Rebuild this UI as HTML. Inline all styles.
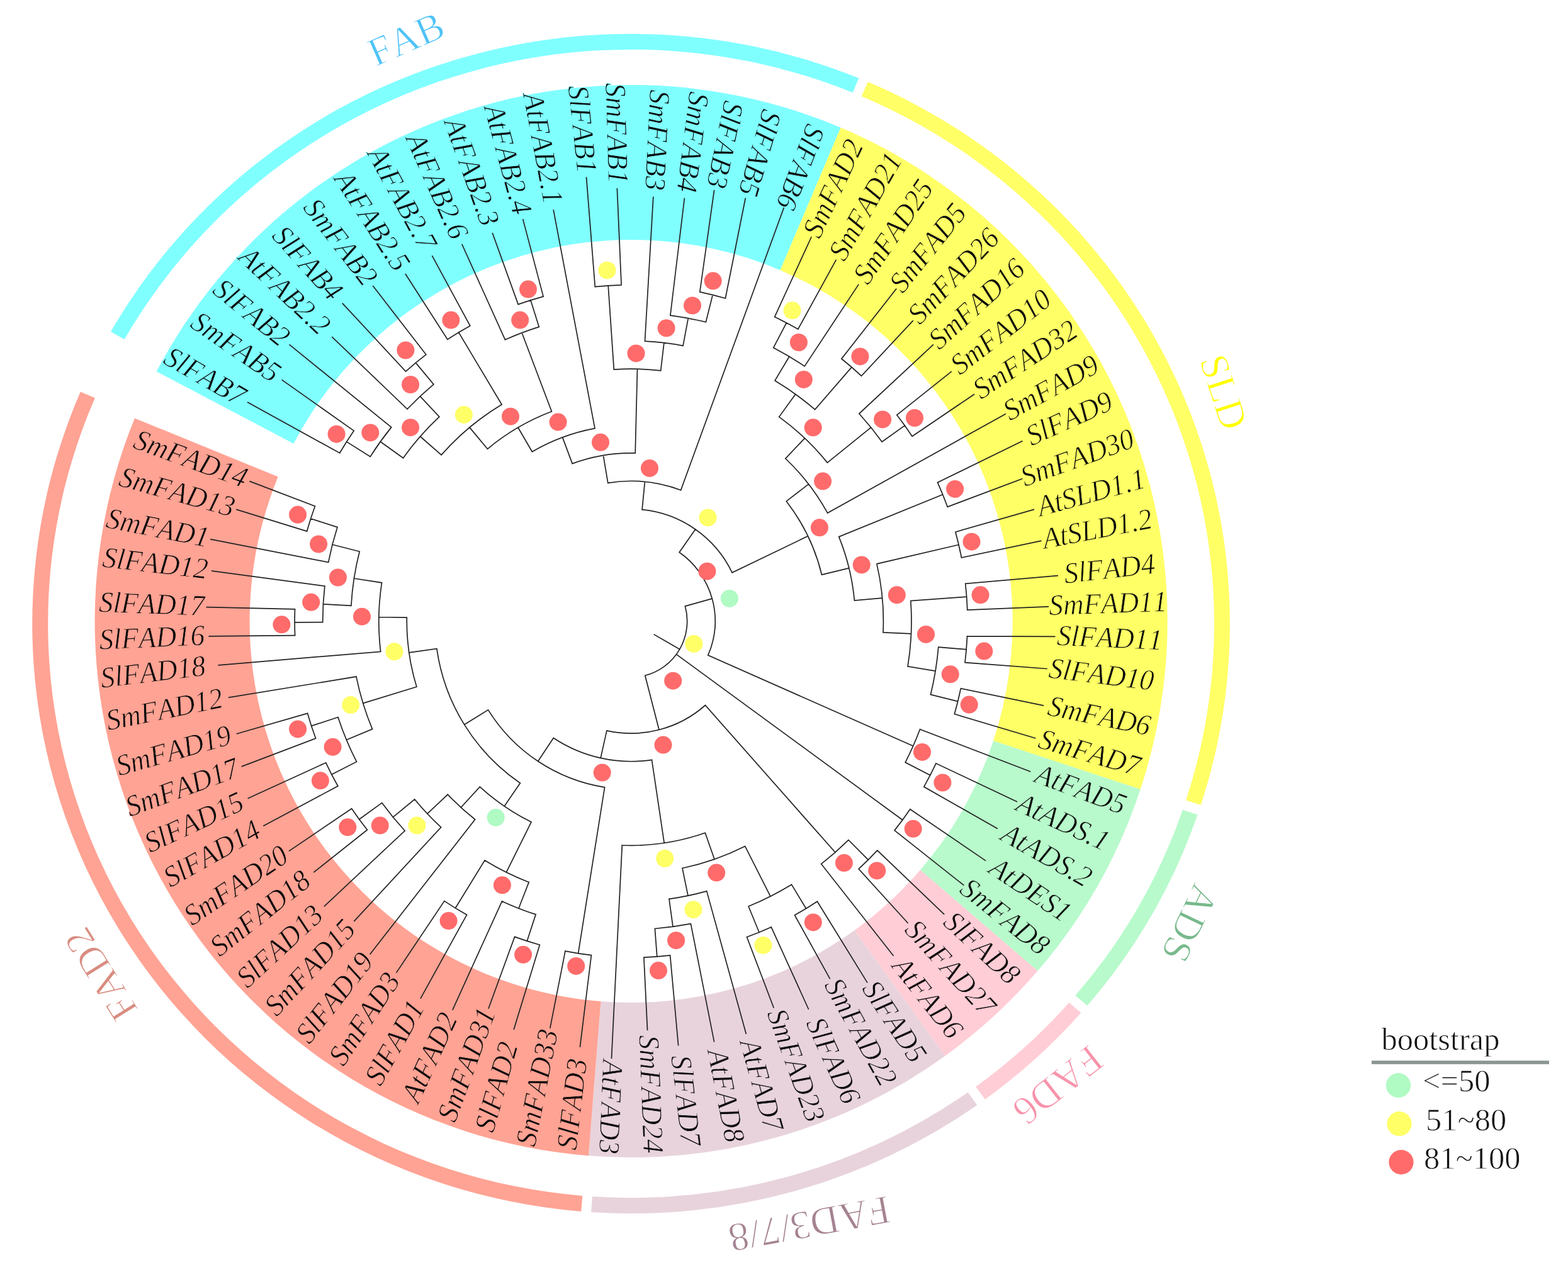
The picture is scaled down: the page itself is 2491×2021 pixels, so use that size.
<!DOCTYPE html>
<html lang="en"><head><meta charset="utf-8"><title>Phylogenetic tree of FAD genes</title>
<style>html,body{margin:0;padding:0;background:#fff}body{width:2491px;height:2021px;overflow:hidden}svg{display:block}.lb{font-family:"Liberation Serif","DejaVu Serif",serif;font-style:italic;font-kerning:none;font-size:47px;fill:#0a0a0a}.rg{font-family:"Liberation Serif","DejaVu Serif",serif;font-kerning:none;font-size:62px}.lg{font-family:"Liberation Serif","DejaVu Serif",serif;font-kerning:none;font-size:50.5px;fill:#111}</style></head><body>
<svg xmlns="http://www.w3.org/2000/svg" width="2491" height="2021" viewBox="0 0 2491 2021">
<rect width="2491" height="2021" fill="#fff"/>
<g id="bands">
<path d="M248.6 590.2A852 852 0 0 1 1335.7 202.8L1239.5 429.2A606 606 0 0 0 466.3 704.8Z" fill="#80ffff"/>
<path d="M1335.7 202.8A852 852 0 0 1 1811.7 1254.1L1578.1 1177A606 606 0 0 0 1239.5 429.2Z" fill="#ffff66"/>
<path d="M1811.7 1254.1A852 852 0 0 1 1648.5 1542.6L1462 1382.2A606 606 0 0 0 1578.1 1177Z" fill="#b8facb"/>
<path d="M1648.5 1542.6A852 852 0 0 1 1501.4 1677.7L1357.4 1478.3A606 606 0 0 0 1462 1382.2Z" fill="#ffcdd6"/>
<path d="M1501.4 1677.7A852 852 0 0 1 935 1836.3L954.5 1591.1A606 606 0 0 0 1357.4 1478.3Z" fill="#e8d3dc"/>
<path d="M935 1836.3A852 852 0 0 1 214 664.5L441.7 757.6A606 606 0 0 0 954.5 1591.1Z" fill="#ffa394"/>
</g>
<g id="ring">
<path d="M176 527A951.3 937.1 0 0 1 1364.3 124.2L1354.7 147.1A926.4 912.2 0 0 0 197.7 539.2Z" fill="#80ffff"/>
<path d="M1378.7 130.1A951.3 937.1 0 0 1 1907.8 1278.9L1884.1 1271.4A926.4 912.2 0 0 0 1368.7 152.9Z" fill="#ffff66"/>
<path d="M1902.5 1294.6A951.3 937.1 0 0 1 1727.4 1597.8L1708.3 1581.8A926.4 912.2 0 0 0 1878.9 1286.7Z" fill="#b8facb"/>
<path d="M1717.3 1609.3A951.3 937.1 0 0 1 1565 1746.7L1550.1 1726.8A926.4 912.2 0 0 0 1698.5 1593.1Z" fill="#ffcdd6"/>
<path d="M1552.2 1755.8A951.3 937.1 0 0 1 939.2 1925.9L940.9 1901.1A926.4 912.2 0 0 0 1537.7 1735.5Z" fill="#e8d3dc"/>
<path d="M923.2 1924.7A951.3 937.1 0 0 1 127.8 622.6L150.8 632.3A926.4 912.2 0 0 0 925.3 1899.9Z" fill="#ffa394"/>
</g>
<g id="tree" fill="none" stroke="#222" stroke-width="1.7" stroke-linecap="square" stroke-linejoin="miter">
<path d="M1088.4 963.1A89.1 89.1 0 0 1 1024.8 1073.3M1088.4 963.1L1131.3 951.1M1079.2 877.5A133.6 133.6 0 0 1 1124.8 1041.1M1079.2 877.5L1104.7 841M1020.1 809.7A178.2 178.2 0 0 1 1163.1 909.8M1020.1 809.7L1024.4 765.4M965.8 767.4A222.7 222.7 0 0 1 1081.6 778.8M965.8 767.4L958.4 723.4M909.2 736.6A267.2 267.2 0 0 1 1009.2 719.9M909.2 736.6L893.6 694.9M845.4 717.7A311.8 311.8 0 0 1 945 680.6M845.4 717.7L823 679.3M774.5 713.3A356.3 356.3 0 0 1 876.4 653.8M774.5 713.3L746 679.1M701.1 722.9A400.8 400.8 0 0 1 797.1 642.8M701.1 722.9L667.6 693.5M640.5 727.7A445.4 445.4 0 0 1 697.9 662.2M640.5 727.7L604.3 701.7M588.2 725.6A489.9 489.9 0 0 1 621.7 678.9M588.2 725.6L550.6 701.9M539.7 719.8A534.5 534.5 0 0 1 562.1 684.4M539.7 719.8L393.6 639.3M562.1 684.4L448.3 603.9M621.7 678.9L460.2 547.9M697.9 662.2L667.4 629.7M647 650A489.9 489.9 0 0 1 688.9 610.6M647 650L527.8 535.7M688.9 610.6L660.4 576.4M644.6 590.1A534.5 534.5 0 0 1 676.8 563.3M644.6 590.1L544.4 482.3M676.8 563.3L592.7 454.6M797.1 642.8L728.7 528.1M710.9 539.2A534.5 534.5 0 0 1 746.8 517.7M710.9 539.2L644.4 435.7M746.8 517.7L686.8 406.9M876.4 653.8L829.1 528.8M802.5 539.8A489.9 489.9 0 0 1 856.3 519.4M802.5 539.8L734.1 388.5M856.3 519.4L843 476.9M823.2 483.6A534.5 534.5 0 0 1 863.1 471.1M823.2 483.6L782.5 370.8M863.1 471.1L830.9 348.9M945 680.6L879.3 333.9M1009.2 719.9L1012.5 586.3M975.3 587.1A400.8 400.8 0 0 1 1049.7 588.9M975.3 587.1L966.2 453.8M945.3 455.6A534.5 534.5 0 0 1 987.1 452.8M945.3 455.6L931.6 282.1M987.1 452.8L980.4 299.9M1049.7 588.9L1054.9 544.7M1024.5 542.2A445.4 445.4 0 0 1 1085.1 549.3M1024.5 542.2L1037.8 313.2M1085.1 549.3L1093.3 505.6M1064.9 501.1A489.9 489.9 0 0 1 1121.4 511.7M1064.9 501.1L1087.3 315.5M1121.4 511.7L1132.2 468.5M1111.8 463.8A534.5 534.5 0 0 1 1152.4 474M1111.8 463.8L1134.5 302.8M1152.4 474L1184.1 315.5M1081.6 778.8L1245.1 330.5M1163.1 909.8L1283.5 851.8M1249.3 796.4A311.8 311.8 0 0 1 1305.5 913.2M1249.3 796.4L1284.6 769.2M1247.8 728.5A356.3 356.3 0 0 1 1314.7 815.1M1247.8 728.5L1278.5 696.2M1237.7 662.4A400.8 400.8 0 0 1 1314.4 735.1M1237.7 662.4L1263.8 626.3M1231.1 604.7A445.4 445.4 0 0 1 1294.6 650.7M1231.1 604.7L1253.9 566.5M1228.8 552.4A489.9 489.9 0 0 1 1278.2 581.9M1228.8 552.4L1249.4 512.9M1230.6 503.6A534.5 534.5 0 0 1 1267.8 523M1230.6 503.6L1288.8 377M1267.8 523L1328 413.3M1278.2 581.9L1363.7 452.4M1294.6 650.7L1353 583.4M1336.9 570A534.5 534.5 0 0 1 1368.5 597.4M1336.9 570L1423.6 459.2M1368.5 597.4L1450.1 509.9M1314.4 735.1L1383.7 679.1M1364.9 657.2A489.9 489.9 0 0 1 1401.1 702M1364.9 657.2L1482.3 547.9M1401.1 702L1437.3 676.1M1424.8 659.3A534.5 534.5 0 0 1 1449.1 693.3M1424.8 659.3L1511.1 590.6M1449.1 693.3L1547.3 626.7M1314.7 815.1L1597 657.9M1305.5 913.2L1348.8 902.6M1332.7 852.9A356.3 356.3 0 0 1 1357.4 954.2M1332.7 852.9L1497.7 785.8M1489.5 766.6A534.5 534.5 0 0 1 1505.2 805.3M1489.5 766.6L1623.7 700.9M1505.2 805.3L1623.7 760.8M1357.4 954.2L1401.7 950.1M1392.9 895.9A400.8 400.8 0 0 1 1403 1004.9M1392.9 895.9L1523.1 865.5M1517.9 845.2A534.5 534.5 0 0 1 1527.4 886M1517.9 845.2L1642.2 809.6M1527.4 886L1653.7 859.4M1403 1004.9L1447.5 1006.9M1446.8 954.6A445.4 445.4 0 0 1 1442.1 1058.9M1446.8 954.6L1535.6 948.2M1533.7 927.3A534.5 534.5 0 0 1 1536.8 969.1M1533.7 927.3L1680.2 914.7M1536.8 969.1L1665.2 963.8M1442.1 1058.9L1486.1 1066.1M1490.8 1028.1A489.9 489.9 0 0 1 1478.4 1103.7M1490.8 1028.1L1535.2 1031.8M1536.5 1010.9A534.5 534.5 0 0 1 1533 1052.6M1536.5 1010.9L1675.6 1011.4M1533 1052.6L1662.9 1062.5M1478.4 1103.7L1521.7 1114.3M1526.3 1093.9A534.5 534.5 0 0 1 1516.3 1134.5M1526.3 1093.9L1657.2 1120.8M1516.3 1134.5L1644.5 1172.7M1124.8 1041.1L1450.6 1185.3M1461.5 1158.7A489.9 489.9 0 0 1 1438.2 1211.3M1461.5 1158.7L1636.4 1225.7M1438.2 1211.3L1477.8 1231.7M1487 1212.9A534.5 534.5 0 0 1 1467.8 1250.1M1487 1212.9L1615.2 1273.6M1467.8 1250.1L1584.1 1316.3M1074.5 1039.6L1433.8 1302.8M1445.8 1285.7A534.5 534.5 0 0 1 1421.1 1319.4M1445.8 1285.7L1565.3 1367.1M1421.1 1319.4L1530.7 1406.2M1024.8 1073.3L1047 1159.5M1120.5 1120.5A178.2 178.2 0 0 1 963.9 1160.9M1120.5 1120.5L1326.9 1354.3M1347.9 1334.6A489.9 489.9 0 0 1 1304.7 1372.7M1347.9 1334.6L1379.3 1366.2M1393.8 1351.2A534.5 534.5 0 0 1 1364.1 1380.6M1393.8 1351.2L1499.6 1452.3M1364.1 1380.6L1442 1466.2M1304.7 1372.7L1418.9 1518M963.9 1160.9L954.2 1204.4M1035.5 1207.3A222.7 222.7 0 0 1 879.3 1172.5M1035.5 1207.3L1055.2 1339.4M1120.3 1323.3A356.3 356.3 0 0 1 988.3 1343M1120.3 1323.3L1135 1365.3M1183.7 1344.6A400.8 400.8 0 0 1 1084 1379.5M1183.7 1344.6L1223.9 1424.1M1257.5 1405.4A489.9 489.9 0 0 1 1189.1 1440M1257.5 1405.4L1280.6 1443.5M1298.3 1432.2A534.5 534.5 0 0 1 1262.5 1454M1298.3 1432.2L1377.5 1560.6M1262.5 1454L1318.2 1554.7M1189.1 1440L1206 1481.2M1225.2 1472.9A534.5 534.5 0 0 1 1186.5 1488.8M1225.2 1472.9L1284.3 1603M1186.5 1488.8L1229 1600.7M1084 1379.5L1093 1423.1M1122.7 1415.9A445.4 445.4 0 0 1 1063 1428.3M1122.7 1415.9L1185.2 1642.2M1063 1428.3L1069 1472.4M1097.4 1467.7A489.9 489.9 0 0 1 1040.4 1475.5M1097.4 1467.7L1134.5 1654.8M1040.4 1475.5L1043.8 1519.9M1064.6 1517.8A534.5 534.5 0 0 1 1022.9 1521.1M1064.6 1517.8L1077.6 1660.6M1022.9 1521.1L1028.5 1636.4M988.3 1343L971.5 1681.3M879.3 1172.5L854.7 1209.5M960.6 1250.9A267.2 267.2 0 0 1 775.5 1127.9M960.6 1250.9L918.6 1514.8M939.4 1517.7A534.5 534.5 0 0 1 898 1511.1M939.4 1517.7L921.5 1662.9M898 1511.1L874 1632.9M775.5 1127.9L737.7 1151.3M826.4 1244.2A311.8 311.8 0 0 1 693.9 1030.6M826.4 1244.2L801.2 1280.9M844 1306.1A356.3 356.3 0 0 1 762.3 1250.1M844 1306.1L804.4 1385.8M840.2 1401.7A445.4 445.4 0 0 1 770.1 1366.9M840.2 1401.7L824 1443.2M851.1 1452.9A489.9 489.9 0 0 1 797.5 1431.9M851.1 1452.9L837.3 1495.3M857.4 1501.3A534.5 534.5 0 0 1 817.6 1488.4M857.4 1501.3L816.4 1635.2M817.6 1488.4L776.3 1601.8M797.5 1431.9L719.2 1604.1M770.1 1366.9L723.5 1442.8M741.6 1453.4A534.5 534.5 0 0 1 705.9 1431.6M741.6 1453.4L668.4 1585.8M705.9 1431.6L630 1544.9M762.3 1250.1L732.2 1283M754.7 1302A400.8 400.8 0 0 1 711.3 1262.3M754.7 1302L588.1 1515.7M711.3 1262.3L678.9 1292.9M700.6 1314.4A445.4 445.4 0 0 1 658.7 1270M700.6 1314.4L562.8 1463.4M658.7 1270L624.3 1298.3M643.2 1320A489.9 489.9 0 0 1 606.7 1275.6M643.2 1320L515.5 1439.7M606.7 1275.6L570.7 1301.8M583.4 1318.5A534.5 534.5 0 0 1 558.7 1284.7M583.4 1318.5L499 1385.5M558.7 1284.7L459.6 1351.9M693.9 1030.6L649.8 1036.9M661.9 1091.3A356.3 356.3 0 0 1 646.3 981.2M661.9 1091.3L576.7 1117.4M591.5 1158.4A445.4 445.4 0 0 1 566 1075.1M591.5 1158.4L550.4 1175.5M566.5 1210.3A489.9 489.9 0 0 1 537 1139.5M566.5 1210.3L526.9 1230.6M536.8 1249A534.5 534.5 0 0 1 517.7 1211.8M536.8 1249L418.9 1311.9M517.7 1211.8L394.4 1268.3M537 1139.5L494.7 1153.4M501.6 1173.2A534.5 534.5 0 0 1 488.6 1133.4M501.6 1173.2L384.5 1217.6M488.6 1133.4L376.4 1165.8M566 1075.1L363.7 1108.2M646.3 981.2L601.8 980.5M604.7 1035.3A400.8 400.8 0 0 1 606.5 925.8M604.7 1035.3L347.2 1056.8M606.5 925.8L562.4 919M557.9 962.3A445.4 445.4 0 0 1 571.2 876.3M557.9 962.3L513.4 959.9M512.7 988.6A489.9 489.9 0 0 1 515.9 931.2M512.7 988.6L468.1 988.8M468.6 1009.7A534.5 534.5 0 0 1 468.5 967.9M468.6 1009.7L332.2 1010.9M468.5 967.9L328.4 964.6M515.9 931.2L336.8 907.1M571.2 876.3L528 865.2M521.7 893.3A489.9 489.9 0 0 1 536 837.6M521.7 893.3L334.9 856.9M536 837.6L493.6 824M487.6 844.1A534.5 534.5 0 0 1 500.4 804.2M487.6 844.1L376 809.6M500.4 804.2L397.2 764.9M1079.7 1031.5L1039.4 1008.3"/>
</g>
<g id="dots">
<circle cx="534.6" cy="689.7" r="14" fill="#ff6b6b"/>
<circle cx="588.3" cy="687.4" r="14" fill="#ff6b6b"/>
<circle cx="644.4" cy="556.5" r="14" fill="#ff6b6b"/>
<circle cx="652.1" cy="611" r="14" fill="#ff6b6b"/>
<circle cx="652.1" cy="679.2" r="14" fill="#ff6b6b"/>
<circle cx="716.4" cy="508.6" r="14" fill="#ff6b6b"/>
<circle cx="736.9" cy="658.9" r="14" fill="#ffff66"/>
<circle cx="839" cy="459.6" r="14" fill="#ff6b6b"/>
<circle cx="826.2" cy="508.6" r="14" fill="#ff6b6b"/>
<circle cx="811" cy="661.7" r="14" fill="#ff6b6b"/>
<circle cx="886.6" cy="670.6" r="14" fill="#ff6b6b"/>
<circle cx="964.5" cy="429.4" r="14" fill="#ffff66"/>
<circle cx="1132.7" cy="446.3" r="14" fill="#ff6b6b"/>
<circle cx="1100" cy="485.5" r="14" fill="#ff6b6b"/>
<circle cx="1058.6" cy="521.3" r="14" fill="#ff6b6b"/>
<circle cx="1010.5" cy="561.4" r="14" fill="#ff6b6b"/>
<circle cx="954" cy="702.8" r="14" fill="#ff6b6b"/>
<circle cx="1032" cy="743.9" r="14" fill="#ff6b6b"/>
<circle cx="1258.6" cy="493.3" r="14" fill="#ffff66"/>
<circle cx="1268.9" cy="544" r="14" fill="#ff6b6b"/>
<circle cx="1366.4" cy="566.4" r="14" fill="#ff6b6b"/>
<circle cx="1276.8" cy="602.9" r="14" fill="#ff6b6b"/>
<circle cx="1453" cy="664" r="14" fill="#ff6b6b"/>
<circle cx="1402.1" cy="666.4" r="14" fill="#ff6b6b"/>
<circle cx="1291.7" cy="679.3" r="14" fill="#ff6b6b"/>
<circle cx="1307.1" cy="764.6" r="14" fill="#ff6b6b"/>
<circle cx="1517.1" cy="776.9" r="14" fill="#ff6b6b"/>
<circle cx="1543.5" cy="860.7" r="14" fill="#ff6b6b"/>
<circle cx="1557.5" cy="945.3" r="14" fill="#ff6b6b"/>
<circle cx="1563.3" cy="1034.6" r="14" fill="#ff6b6b"/>
<circle cx="1539.7" cy="1119.6" r="14" fill="#ff6b6b"/>
<circle cx="1509.7" cy="1071.3" r="14" fill="#ff6b6b"/>
<circle cx="1471" cy="1007.9" r="14" fill="#ff6b6b"/>
<circle cx="1424.8" cy="945.3" r="14" fill="#ff6b6b"/>
<circle cx="1368.7" cy="897.4" r="14" fill="#ff6b6b"/>
<circle cx="1301.9" cy="838.3" r="14" fill="#ff6b6b"/>
<circle cx="1124.5" cy="822.4" r="14" fill="#ffff66"/>
<circle cx="1497.4" cy="1243.5" r="14" fill="#ff6b6b"/>
<circle cx="1465" cy="1194.9" r="14" fill="#ff6b6b"/>
<circle cx="1158.9" cy="950.9" r="14" fill="#b0fac3"/>
<circle cx="1450.7" cy="1316.8" r="14" fill="#ff6b6b"/>
<circle cx="1393.2" cy="1383.4" r="14" fill="#ff6b6b"/>
<circle cx="1340.9" cy="1371.1" r="14" fill="#ff6b6b"/>
<circle cx="1291.8" cy="1465.4" r="14" fill="#ff6b6b"/>
<circle cx="1212.4" cy="1501.9" r="14" fill="#ffff66"/>
<circle cx="1046" cy="1542.1" r="14" fill="#ff6b6b"/>
<circle cx="1074.1" cy="1494.2" r="14" fill="#ff6b6b"/>
<circle cx="1101.5" cy="1445.2" r="14" fill="#ffff66"/>
<circle cx="1138.2" cy="1386.6" r="14" fill="#ff6b6b"/>
<circle cx="1056.2" cy="1364" r="14" fill="#ffff66"/>
<circle cx="915.2" cy="1534.9" r="14" fill="#ff6b6b"/>
<circle cx="831.1" cy="1516.8" r="14" fill="#ff6b6b"/>
<circle cx="712.6" cy="1463.1" r="14" fill="#ff6b6b"/>
<circle cx="797.9" cy="1406.3" r="14" fill="#ff6b6b"/>
<circle cx="552.3" cy="1314.3" r="14" fill="#ff6b6b"/>
<circle cx="603.7" cy="1311.6" r="14" fill="#ff6b6b"/>
<circle cx="662.4" cy="1311.6" r="14" fill="#ffff66"/>
<circle cx="787.7" cy="1298.9" r="14" fill="#b0fac3"/>
<circle cx="508.9" cy="1240.3" r="14" fill="#ff6b6b"/>
<circle cx="473.1" cy="1158.4" r="14" fill="#ff6b6b"/>
<circle cx="528.6" cy="1186.8" r="14" fill="#ff6b6b"/>
<circle cx="557.2" cy="1120.1" r="14" fill="#ffff66"/>
<circle cx="447.4" cy="992.3" r="14" fill="#ff6b6b"/>
<circle cx="494.2" cy="956.8" r="14" fill="#ff6b6b"/>
<circle cx="473.1" cy="817.8" r="14" fill="#ff6b6b"/>
<circle cx="506.1" cy="864.5" r="14" fill="#ff6b6b"/>
<circle cx="536.9" cy="917.5" r="14" fill="#ff6b6b"/>
<circle cx="575" cy="979.7" r="14" fill="#ff6b6b"/>
<circle cx="626.4" cy="1035.3" r="14" fill="#ffff66"/>
<circle cx="956.7" cy="1227.6" r="14" fill="#ff6b6b"/>
<circle cx="1053.5" cy="1183.6" r="14" fill="#ff6b6b"/>
<circle cx="1102.3" cy="1022.9" r="14" fill="#ffff66"/>
<circle cx="1069.2" cy="1081.7" r="14" fill="#ff6b6b"/>
<circle cx="1123.4" cy="907.7" r="14" fill="#ff6b6b"/>
</g>
<g id="labels" class="lb">
<g stroke="#80ffff" stroke-width="0.8">
<text transform="translate(385.6 634.7) rotate(30.00) scale(0.96 1)" y="13.5" text-anchor="end">SlFAB7</text>
<text transform="translate(439.7 598.1) rotate(34.49) scale(0.96 1)" y="13.5" text-anchor="end">SmFAB5</text>
<text transform="translate(453.1 542.1) rotate(38.97) scale(0.96 1)" y="13.5" text-anchor="end">SlFAB2</text>
<text transform="translate(516.1 524.6) rotate(43.46) scale(0.96 1)" y="13.5" text-anchor="end">AtFAB2.2</text>
<text transform="translate(534.3 471.1) rotate(47.95) scale(0.96 1)" y="13.5" text-anchor="end">SlFAB4</text>
<text transform="translate(588.5 449.1) rotate(52.44) scale(0.96 1)" y="13.5" text-anchor="end">SmFAB2</text>
<text transform="translate(638.8 427.1) rotate(56.92) scale(0.96 1)" y="13.5" text-anchor="end">AtFAB2.5</text>
<text transform="translate(680.2 394.8) rotate(61.41) scale(0.96 1)" y="13.5" text-anchor="end">AtFAB2.7</text>
<text transform="translate(729.4 378) rotate(65.90) scale(0.96 1)" y="13.5" text-anchor="end">AtFAB2.6</text>
<text transform="translate(777.9 357.8) rotate(70.38) scale(0.96 1)" y="13.5" text-anchor="end">AtFAB2.3</text>
<text transform="translate(828.5 340) rotate(74.87) scale(0.96 1)" y="13.5" text-anchor="end">AtFAB2.4</text>
<text transform="translate(877.4 323.7) rotate(79.36) scale(0.96 1)" y="13.5" text-anchor="end">AtFAB2.1</text>
<text transform="translate(930.9 275.2) rotate(83.85) scale(0.96 1)" y="13.5" text-anchor="end">SlFAB1</text>
<text transform="translate(980.2 291.9) rotate(88.33) scale(0.96 1)" y="13.5" text-anchor="end">SmFAB1</text>
<text transform="translate(1038.3 302.8) rotate(92.82) scale(0.96 1)" y="13.5" text-anchor="end">SmFAB3</text>
<text transform="translate(1088.6 305.2) rotate(97.31) scale(0.96 1)" y="13.5" text-anchor="end">SmFAB4</text>
<text transform="translate(1135.5 298.3) rotate(101.79) scale(0.96 1)" y="13.5" text-anchor="end">SlFAB3</text>
<text transform="translate(1185.7 310) rotate(106.28) scale(0.96 1)" y="13.5" text-anchor="end">SlFAB5</text>
<text transform="translate(1245.1 330.5) rotate(110.77) scale(0.96 1)" y="13.5" text-anchor="end">SlFAB6</text>
</g>
<g stroke="#ffff66" stroke-width="0.8">
<text transform="translate(1289.8 374.9) rotate(-64.74) scale(0.96 1)" y="13.5" text-anchor="start">SmFAD2</text>
<text transform="translate(1329.7 410.3) rotate(-60.26) scale(0.96 1)" y="13.5" text-anchor="start">SmFAD21</text>
<text transform="translate(1367.6 446.7) rotate(-55.77) scale(0.96 1)" y="13.5" text-anchor="start">SmFAD25</text>
<text transform="translate(1423.6 459.2) rotate(-51.28) scale(0.96 1)" y="13.5" text-anchor="start">SmFAD5</text>
<text transform="translate(1451.6 508.2) rotate(-46.79) scale(0.96 1)" y="13.5" text-anchor="start">SmFAD26</text>
<text transform="translate(1483.2 547.2) rotate(-42.31) scale(0.96 1)" y="13.5" text-anchor="start">SmFAD16</text>
<text transform="translate(1516.6 586.3) rotate(-37.82) scale(0.96 1)" y="13.5" text-anchor="start">SmFAD10</text>
<text transform="translate(1551.1 624.2) rotate(-33.33) scale(0.96 1)" y="13.5" text-anchor="start">SmFAD32</text>
<text transform="translate(1598 657.4) rotate(-28.85) scale(0.96 1)" y="13.5" text-anchor="start">SmFAD9</text>
<text transform="translate(1633.2 696.6) rotate(-24.36) scale(0.96 1)" y="13.5" text-anchor="start">SlFAD9</text>
<text transform="translate(1623.7 760.8) rotate(-19.87) scale(0.96 1)" y="13.5" text-anchor="start">SmFAD30</text>
<text transform="translate(1648.8 807.8) rotate(-15.38) scale(0.96 1)" y="13.5" text-anchor="start">AtSLD1.1</text>
<text transform="translate(1656.6 858.8) rotate(-10.90) scale(0.96 1)" y="13.5" text-anchor="start">AtSLD1.2</text>
<text transform="translate(1690.5 913.5) rotate(-6.41) scale(0.96 1)" y="13.5" text-anchor="start">SlFAD4</text>
<text transform="translate(1666.4 963.8) rotate(-1.92) scale(0.96 1)" y="13.5" text-anchor="start">SmFAD11</text>
<text transform="translate(1679 1011.5) rotate(2.56) scale(0.96 1)" y="13.5" text-anchor="start">SlFAD11</text>
<text transform="translate(1666.3 1063) rotate(7.05) scale(0.96 1)" y="13.5" text-anchor="start">SlFAD10</text>
<text transform="translate(1665.1 1122.4) rotate(11.54) scale(0.96 1)" y="13.5" text-anchor="start">SmFAD6</text>
<text transform="translate(1651.1 1174.6) rotate(16.03) scale(0.96 1)" y="13.5" text-anchor="start">SmFAD7</text>
</g>
<g stroke="#b8facb" stroke-width="0.8">
<text transform="translate(1646.1 1229.3) rotate(20.51) scale(0.96 1)" y="13.5" text-anchor="start">AtFAD5</text>
<text transform="translate(1617.3 1274.5) rotate(25.00) scale(0.96 1)" y="13.5" text-anchor="start">AtADS.1</text>
<text transform="translate(1593.8 1321.8) rotate(29.49) scale(0.96 1)" y="13.5" text-anchor="start">AtADS.2</text>
<text transform="translate(1575.8 1374.2) rotate(33.97) scale(0.96 1)" y="13.5" text-anchor="start">AtDES1</text>
<text transform="translate(1530.7 1406.2) rotate(38.46) scale(0.96 1)" y="13.5" text-anchor="start">SmFAD8</text>
</g>
<g stroke="#ffcdd6" stroke-width="0.8">
<text transform="translate(1505.5 1457.8) rotate(42.95) scale(0.96 1)" y="13.5" text-anchor="start">SlFAD8</text>
<text transform="translate(1445.1 1469.6) rotate(47.44) scale(0.96 1)" y="13.5" text-anchor="start">SmFAD27</text>
<text transform="translate(1426 1527.1) rotate(51.92) scale(0.96 1)" y="13.5" text-anchor="start">AtFAD6</text>
</g>
<g stroke="#e8d3dc" stroke-width="0.8">
<text transform="translate(1379.4 1563.5) rotate(56.41) scale(0.96 1)" y="13.5" text-anchor="start">SlFAD5</text>
<text transform="translate(1320.2 1558.4) rotate(60.90) scale(0.96 1)" y="13.5" text-anchor="start">SmFAD22</text>
<text transform="translate(1292 1619.7) rotate(65.38) scale(0.96 1)" y="13.5" text-anchor="start">SlFAD6</text>
<text transform="translate(1230.6 1605) rotate(69.87) scale(0.96 1)" y="13.5" text-anchor="start">SmFAD23</text>
<text transform="translate(1188 1652.1) rotate(74.36) scale(0.96 1)" y="13.5" text-anchor="start">AtFAD7</text>
<text transform="translate(1137 1667.3) rotate(78.85) scale(0.96 1)" y="13.5" text-anchor="start">AtFAD8</text>
<text transform="translate(1079.5 1676.6) rotate(83.33) scale(0.96 1)" y="13.5" text-anchor="start">SlFAD7</text>
<text transform="translate(1028.8 1644.5) rotate(87.82) scale(0.96 1)" y="13.5" text-anchor="start">SmFAD24</text>
<text transform="translate(971.4 1683.6) rotate(92.31) scale(0.96 1)" y="13.5" text-anchor="start">AtFAD3</text>
</g>
<g stroke="#ffa394" stroke-width="0.8">
<text transform="translate(919.2 1682.3) rotate(276.79) scale(0.96 1)" y="13.5" text-anchor="end">SlFAD3</text>
<text transform="translate(873.3 1636.3) rotate(281.28) scale(0.96 1)" y="13.5" text-anchor="end">SmFAD33</text>
<text transform="translate(810.1 1657.4) rotate(285.77) scale(0.96 1)" y="13.5" text-anchor="end">SlFAD2</text>
<text transform="translate(775.5 1604) rotate(290.26) scale(0.96 1)" y="13.5" text-anchor="end">SmFAD31</text>
<text transform="translate(715.3 1612.5) rotate(294.74) scale(0.96 1)" y="13.5" text-anchor="end">AtFAD2</text>
<text transform="translate(663.9 1593.9) rotate(299.23) scale(0.96 1)" y="13.5" text-anchor="end">SlFAD1</text>
<text transform="translate(626.2 1550.7) rotate(303.72) scale(0.96 1)" y="13.5" text-anchor="end">SmFAD3</text>
<text transform="translate(584.6 1520.2) rotate(308.21) scale(0.96 1)" y="13.5" text-anchor="end">SlFAD19</text>
<text transform="translate(557.3 1469.3) rotate(312.69) scale(0.96 1)" y="13.5" text-anchor="end">SmFAD15</text>
<text transform="translate(507.1 1447.5) rotate(317.18) scale(0.96 1)" y="13.5" text-anchor="end">SlFAD13</text>
<text transform="translate(488.1 1394.1) rotate(321.67) scale(0.96 1)" y="13.5" text-anchor="end">SmFAD18</text>
<text transform="translate(453.8 1355.8) rotate(326.15) scale(0.96 1)" y="13.5" text-anchor="end">SmFAD20</text>
<text transform="translate(410.5 1316.7) rotate(330.64) scale(0.96 1)" y="13.5" text-anchor="end">SlFAD14</text>
<text transform="translate(385 1272.7) rotate(335.13) scale(0.96 1)" y="13.5" text-anchor="end">SlFAD15</text>
<text transform="translate(378 1220) rotate(339.62) scale(0.96 1)" y="13.5" text-anchor="end">SmFAD17</text>
<text transform="translate(366.4 1168.6) rotate(344.10) scale(0.96 1)" y="13.5" text-anchor="end">SmFAD19</text>
<text transform="translate(353.6 1110.2) rotate(348.59) scale(0.96 1)" y="13.5" text-anchor="end">SmFAD12</text>
<text transform="translate(326.6 1059.3) rotate(353.08) scale(0.96 1)" y="13.5" text-anchor="end">SlFAD18</text>
<text transform="translate(325.3 1011.2) rotate(357.56) scale(0.96 1)" y="13.5" text-anchor="end">SlFAD16</text>
<text transform="translate(324.9 964.5) rotate(362.05) scale(0.96 1)" y="13.5" text-anchor="end">SlFAD17</text>
<text transform="translate(329.9 906.3) rotate(366.54) scale(0.96 1)" y="13.5" text-anchor="end">SlFAD12</text>
<text transform="translate(331.5 856.2) rotate(371.03) scale(0.96 1)" y="13.5" text-anchor="end">SmFAD1</text>
<text transform="translate(371.5 808.4) rotate(375.51) scale(0.96 1)" y="13.5" text-anchor="end">SmFAD13</text>
<text transform="translate(390.7 762.6) rotate(380.00) scale(0.96 1)" y="13.5" text-anchor="end">SmFAD14</text>
</g>
</g>
<g id="ringlabels" class="rg" stroke="#fff" stroke-width="1.2">
<text transform="translate(645 62) rotate(-23.6)" text-anchor="middle" y="21.1" font-size="64" fill="#4fc3f7">FAB</text>
<text transform="translate(1944 623) rotate(72)" text-anchor="middle" y="21.1" font-size="64" fill="#ffff00">SLD</text>
<text transform="translate(1890 1467) rotate(115.5)" text-anchor="middle" y="21.1" font-size="64" fill="#78b98c">ADS</text>
<text transform="translate(1681 1724) rotate(142)" text-anchor="middle" y="21.1" font-size="64" fill="#f792aa">FAD6</text>
<text transform="translate(1286 1944.5) rotate(169.5)" text-anchor="middle" y="21.1" font-size="64" fill="#a58291">FAD3/7/8</text>
<text transform="translate(160.5 1548) rotate(238)" text-anchor="middle" y="21.1" font-size="64" fill="#d98c80">FAD2</text>
</g>
<g id="legend" class="lg" stroke="#fff" stroke-width="0.8">
<text x="2194.5" y="1667.6">bootstrap</text>
<rect x="2179" y="1685.2" width="282" height="5.6" fill="#8a9691" stroke="none"/>
<circle cx="2221.5" cy="1724.5" r="19.6" fill="#b0fac3" stroke="none"/>
<text x="2260" y="1733.6">&lt;=50</text>
<circle cx="2223" cy="1785.5" r="19.6" fill="#ffff66" stroke="none"/>
<text x="2265" y="1796.3">51~80</text>
<circle cx="2226" cy="1846.5" r="19.6" fill="#ff6b6b" stroke="none"/>
<text x="2262" y="1857.3">81~100</text>
</g>
</svg></body></html>
